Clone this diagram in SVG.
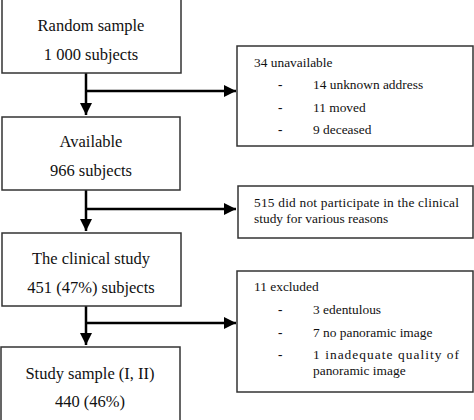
<svg xmlns="http://www.w3.org/2000/svg" width="474" height="420" viewBox="0 0 474 420">
<defs>
<style>
.box{fill:#fff;stroke:#333;stroke-width:1.5}
.main{font-family:"Liberation Serif","Times New Roman",serif;font-size:16.5px;fill:#111;text-anchor:middle}
.side{font-family:"Liberation Serif","Times New Roman",serif;font-size:13.4px;fill:#111}
.dash{font-weight:bold}
.conn{stroke:#000;stroke-width:2.5;fill:none}
</style>
<marker id="ah" markerWidth="5" markerHeight="5" refX="5" refY="2.5" orient="auto" markerUnits="strokeWidth">
<path d="M0,0 L5,2.5 L0,5 Z" fill="#000"/>
</marker>
</defs>
<rect width="474" height="420" fill="#fff"/>
<g id="connectors">
<path class="conn" d="M86,73 V115" marker-end="url(#ah)"/>
<path class="conn" d="M86,91 H236" marker-end="url(#ah)"/>
<path class="conn" d="M86,190 V231" marker-end="url(#ah)"/>
<path class="conn" d="M86,209 H236" marker-end="url(#ah)"/>
<path class="conn" d="M86,306 V345" marker-end="url(#ah)"/>
<path class="conn" d="M86,323 H236" marker-end="url(#ah)"/>
</g>
<g id="random-sample">
<rect class="box" x="2" y="-2" width="179" height="75"/>
<text class="main" x="91" y="31">Random sample</text>
<text class="main" x="91" y="60">1 000 subjects</text>
</g>
<g id="unavailable">
<rect class="box" x="237" y="46" width="236" height="100"/>
<text class="side" x="254" y="67">34 unavailable</text>
<text class="side dash" x="278" y="89">-</text><text class="side" x="313" y="89">14 unknown address</text>
<text class="side dash" x="278" y="112">-</text><text class="side" x="313" y="112">11 moved</text>
<text class="side dash" x="278" y="134">-</text><text class="side" x="313" y="134">9 deceased</text>
</g>
<g id="available">
<rect class="box" x="2" y="117" width="178" height="73"/>
<text class="main" x="91" y="147">Available</text>
<text class="main" x="91" y="176">966 subjects</text>
</g>
<g id="not-participated">
<rect class="box" x="238" y="186" width="235" height="52"/>
<text class="side" x="254" y="207" textLength="205" lengthAdjust="spacing">515 did not participate in the clinical</text>
<text class="side" x="254" y="223">study for various reasons</text>
</g>
<g id="clinical-study">
<rect class="box" x="2" y="233" width="179" height="73"/>
<text class="main" x="91" y="264">The clinical study</text>
<text class="main" x="91" y="293">451 (47%) subjects</text>
</g>
<g id="excluded">
<rect class="box" x="237" y="271" width="236" height="121"/>
<text class="side" x="254" y="291">11 excluded</text>
<text class="side dash" x="278" y="314">-</text><text class="side" x="313" y="314">3 edentulous</text>
<text class="side dash" x="278" y="337">-</text><text class="side" x="313" y="337">7 no panoramic image</text>
<text class="side dash" x="278" y="359">-</text><text class="side" x="313" y="359" textLength="146" lengthAdjust="spacing">1 inadequate quality of</text>
<text class="side" x="313" y="375">panoramic image</text>
</g>
<g id="study-sample">
<rect class="box" x="1" y="347" width="179" height="80"/>
<text class="main" x="90" y="379">Study sample (I, II)</text>
<text class="main" x="90" y="407">440 (46%)</text>
</g>
</svg>
